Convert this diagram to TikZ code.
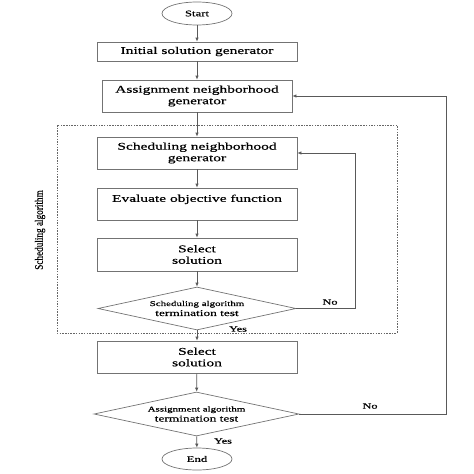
\documentclass[tikz,border=0pt]{standalone}
\usepackage{fontspec}
\setmainfont[FakeStretch=1.5,FakeBold=0.5]{Liberation Serif}
\newfontfamily\narrowfont[FakeStretch=0.8,FakeBold=0.3]{Liberation Serif}
\usetikzlibrary{shapes.geometric,arrows.meta}

\tikzset{
  box/.style={draw=black!55, line width=0.7pt, minimum width=200pt, minimum height=32pt, align=center, inner sep=0pt, font=\fontsize{10.3}{11.5}\selectfont},
  term/.style={ellipse, draw=black!55, line width=0.7pt, minimum width=70pt, minimum height=23pt, inner sep=0pt, font=\fontsize{8.5}{10}\selectfont},
  test/.style={diamond, draw=black!55, line width=0.7pt, aspect=4.6, inner sep=0pt, align=center, minimum width=198pt, minimum height=43pt, font=\fontsize{8.9}{10}\selectfont},
  arr/.style={draw=black!65, line width=0.7pt, -{Latex[length=4pt,width=3.5pt]}},
  lab/.style={font=\fontsize{8.2}{10}\selectfont}
}

\begin{document}
\begin{tikzpicture}[x=1pt,y=-1pt]
\useasboundingbox (0,0) rectangle (474,474);

% Блоки
\node[term] (start) at (197,13.5) {Start};
\node[box, minimum height=19pt] (init) at (197,51.5) {Initial solution generator};
\node[box, minimum width=190pt] (assign) at (197,96) {Assignment neighborhood\\generator};
\node[box] (schedgen) at (197,153) {Scheduling neighborhood\\generator};
\node[box] (eval) at (197,204) {Evaluate objective function\\~};
\node[box, minimum height=33pt] (select1) at (197,254.5) {Select\\solution};
\node[test] (schedtest) at (197,308.5) {{\fontsize{7.3}{9}\selectfont Scheduling algorithm}\\termination test};
\node[box] (select2) at (197,357) {Select\\solution};
\node[test, minimum width=205pt, minimum height=44pt] (assigntest) at (196.5,414) {{\fontsize{7.3}{9}\selectfont Assignment algorithm}\\termination test};
\node[term, minimum height=22pt] (end) at (197,459) {End};

% Рамка алгоритма
\draw[black!60, line width=0.6pt, dash pattern=on 1.5pt off 1.2pt] (57,125) rectangle (397,333);
\node[rotate=90, font=\narrowfont\fontsize{11.5}{12}\selectfont] (schedlabel) at (40,230) {Scheduling algorithm};

% Стрелки
\foreach \a/\b in {start/init, init/assign, assign/schedgen, schedgen/eval, eval/select1, select1/schedtest, schedtest/select2, select2/assigntest, assigntest/end}
  \draw[arr] (\a) -- (\b);

% Обратные связи
\draw[arr] (schedtest.east) -- ++(59,0) |- (schedgen.east);
\draw[arr] (assigntest.east) -- ++(147,0) |- (assign.east);

% Подписи
\node[lab] (no1) at (330,302) {No};
\node[lab] (yes1) at (238,329) {Yes};
\node[lab] (no2) at (370,406) {No};
\node[lab] (yes2) at (223,441) {Yes};
\end{tikzpicture}
\end{document}
